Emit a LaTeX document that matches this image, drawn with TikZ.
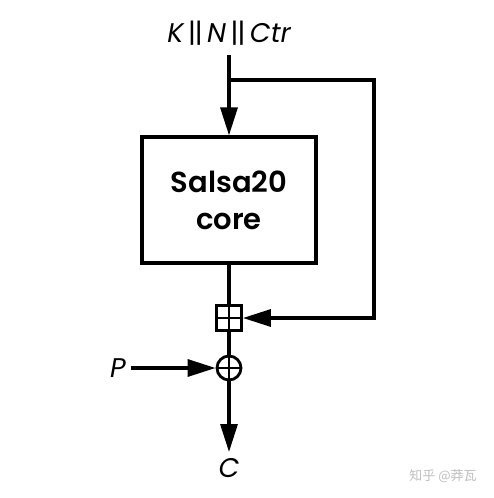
\documentclass[tikz,border=0pt]{standalone}
\usepackage{fontspec}
\setmainfont{Poppins}[BoldFont={Poppins SemiBold}]
\newfontfamily\cjk{Noto Sans CJK SC}
\usetikzlibrary{arrows.meta}
\begin{document}
\begin{tikzpicture}[x=1pt,y=-1pt, line width=3.2pt,
  arr/.style={-{Triangle[length=28pt,width=17pt]}},
  plusmark/.style={path picture={\draw[line width=2.8pt] (path picture bounding box.north) -- (path picture bounding box.south) (path picture bounding box.west) -- (path picture bounding box.east);}},
  lbl/.style={font=\itshape\fontsize{27}{31}\selectfont, inner sep=4pt}]
\useasboundingbox[fill=white] (0,0) rectangle (494,498);
\node[draw, minimum width=174pt, minimum height=126pt, font=\bfseries\fontsize{29}{37}\selectfont, align=center] (core) at (229,200) {Salsa20\\core};
\node[lbl] (top) at (229,33) {K\,{\upshape|\kern-1pt|}\,N\,{\upshape|\kern-1pt|}\,Ctr};
\node[draw, rectangle, minimum size=25pt, inner sep=0pt, line width=2.8pt, plusmark] (bp) at (229,318) {};
\node[draw, circle, minimum size=24pt, inner sep=0pt, line width=2.8pt, plusmark] (xo) at (229,368) {};
\node[lbl] (P) at (118,368) {P};
\node[lbl] (C) at (229,468) {C};
\node[text=black!25, font=\cjk\fontsize{13}{15}\selectfont] (wm) at (443,476) {知乎 @莽瓦};
\coordinate (start) at (229,55);
\coordinate (split) at (229,80);
\coordinate (ne) at (374,80);
\coordinate (se) at (374,318);
\coordinate (cend) at (229,452);
\draw[arr] (start) -- (core.north);
\draw[arr] (split) -- (ne) -- (se) -- (bp.east);
\draw (core.south) -- (bp.north);
\draw (bp.south) -- (xo.north);
\draw[arr] (P.east) -- (xo.west);
\draw[arr] (xo.south) -- (cend);
\end{tikzpicture}
\end{document}
